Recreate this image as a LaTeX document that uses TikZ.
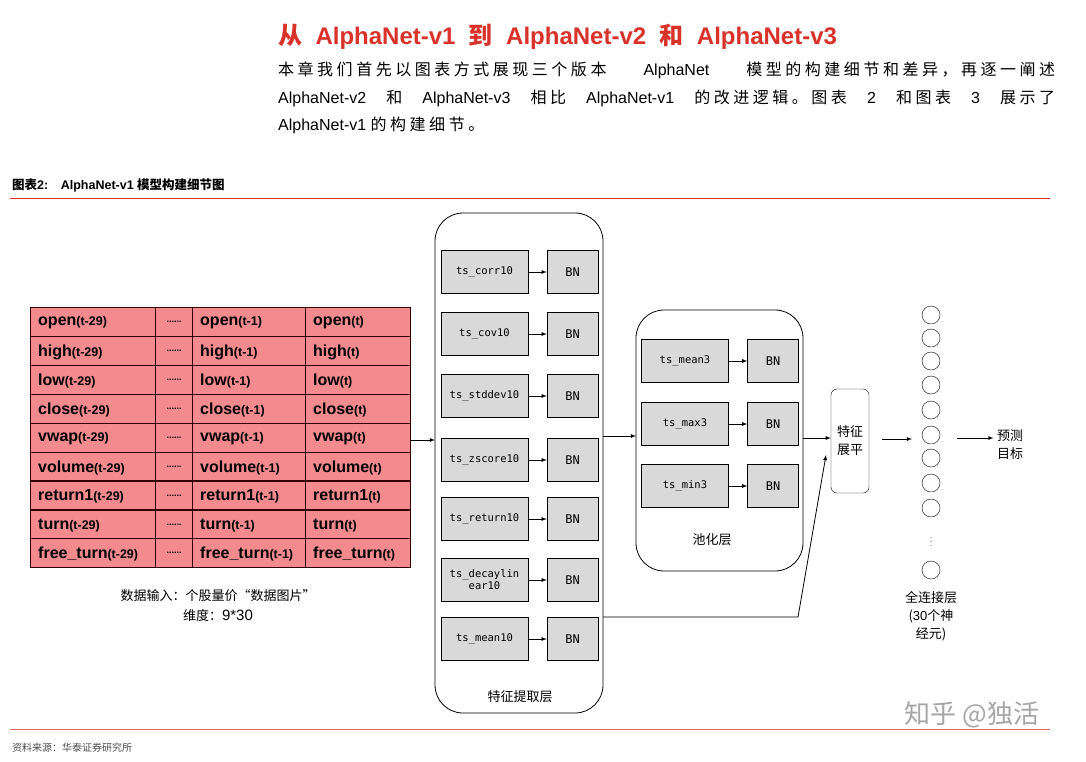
\documentclass[tikz,border=0pt]{standalone}
\usepackage{fontspec}
\setmainfont{Liberation Sans}
\newfontfamily\cjk{Noto Sans CJK SC}
\newfontfamily\cjkp{Noto Sans CJK SC}[LetterSpace=22]
\newfontfamily\mono{DejaVu Sans Mono}
\definecolor{hred}{HTML}{D8322A}
\definecolor{pinkc}{HTML}{F28A8E}
\definecolor{greyc}{HTML}{D9D9D9}
\begin{document}
\begin{tikzpicture}[x=1pt,y=-1pt,
  cell/.style={draw=black!80!red,line width=1.2pt,fill=pinkc,minimum height=28.9pt,anchor=north west,inner sep=0pt},
  op/.style={draw=black,fill=greyc,minimum width=87pt,minimum height=43pt,font=\mono\fontsize{10.5}{12}\selectfont,align=center,inner sep=1pt},
  bn/.style={draw=black,fill=greyc,minimum width=51pt,minimum height=43pt,font=\mono\fontsize{12}{13}\selectfont},
  arr/.style={-latex,line width=0.8pt,black},
  layer/.style={draw=black,thick,rounded corners=28pt},
  neu/.style={draw=black,circle,minimum size=18pt,inner sep=0pt},
  lab/.style={font=\cjk\fontsize{13}{18}\selectfont,align=center}
]
\useasboundingbox (0,0) rectangle (1086,761);
\fill[white] (0,0) rectangle (1086,761);
% header
\node[anchor=west,text=hred,font=\bfseries\fontsize{24}{27}\selectfont,inner sep=0] (title) at (278,37) {{\cjk 从}\ \ AlphaNet-v1\ \ {\cjk 到}\ \ AlphaNet-v2\ \ {\cjk 和}\ \ AlphaNet-v3};
\node[anchor=west,inner sep=0,font=\fontsize{16}{18}\selectfont] (p1) at (278,70) {\makebox[777pt][s]{{\cjkp 本章我们首先以图表方式展现三个版本} AlphaNet {\cjkp 模型的构建细节和差异，再逐一阐述}}};
\node[anchor=west,inner sep=0,font=\fontsize{16}{18}\selectfont] (p2) at (278,98) {\makebox[777pt][s]{AlphaNet-v2 {\cjkp 和} AlphaNet-v3 {\cjkp 相比} AlphaNet-v1 {\cjkp 的改进逻辑。图表} 2 {\cjkp 和图表} 3 {\cjkp 展示了}}};
\node[anchor=west,inner sep=0,font=\fontsize{16}{18}\selectfont] (p3) at (278,125) {AlphaNet-v1\ {\cjkp 的构建细节。}};
\node[anchor=west,inner sep=0,font=\bfseries\fontsize{12.5}{14}\selectfont] (fig) at (12,185) {{\cjk 图表}2:\quad AlphaNet-v1 {\cjk 模型构建细节图}};
\draw[hred,thick] (10,198) -- (1050,198);
\draw[hred!70,thick] (10,729) -- (1050,729);
\node[anchor=west,inner sep=0,text=black!70,font=\cjk\fontsize{10}{12}\selectfont] (src) at (12,748) {资料来源：华泰证券研究所};
\node[text=black!35,font=\cjk\fontsize{26}{28}\selectfont,inner sep=0] (wm) at (972,715) {知乎 @独活};
% table
\def\colA{30}\def\colB{155}\def\colC{192}\def\colD{305}\def\colE{410}
\foreach \nm [count=\i from 0] in {open,high,low,close,vwap,volume,return1,turn,free\_turn}{
  \pgfmathsetmacro\yy{307+\i*28.9}
  \node[cell,minimum width=125pt] (a\i) at (\colA,\yy) {};
  \node[cell,minimum width=37pt] (b\i) at (\colB,\yy) {};
  \node[cell,minimum width=113pt] (c\i) at (\colC,\yy) {};
  \node[cell,minimum width=105pt] (d\i) at (\colD,\yy) {};
  \node[anchor=west,inner sep=0,font=\bfseries] at ([xshift=8pt,yshift=-1pt]a\i.west) {{\fontsize{16}{17}\selectfont\nm}{\fontsize{12.5}{13}\selectfont(t-29)}};
  \node[inner sep=0,font=\bfseries\fontsize{9}{9}\selectfont] at (b\i.center) {......};
  \node[anchor=west,inner sep=0,font=\bfseries] at ([xshift=8pt,yshift=-1pt]c\i.west) {{\fontsize{16}{17}\selectfont\nm}{\fontsize{12.5}{13}\selectfont(t-1)}};
  \node[anchor=west,inner sep=0,font=\bfseries] at ([xshift=8pt,yshift=-1pt]d\i.west) {{\fontsize{16}{17}\selectfont\nm}{\fontsize{12.5}{13}\selectfont(t)}};
}
\node[lab] (cap1) at (218,596) {数据输入：个股量价“数据图片”};
\node[lab] (cap2) at (218,616) {维度：{\fontspec{Liberation Sans}\fontsize{15}{16}\selectfont 9*30}};
% feature layer
\draw[layer] (435,213) rectangle (603,713);
\coordinate (featL) at (435,440);
\coordinate (tabR) at (410,440);
\draw[arr] (tabR) -- (featL);
\node[lab] (featlab) at (520,697) {特征提取层};
\foreach \t [count=\i] /\yc in {ts\_corr10/272,ts\_cov10/334,ts\_stddev10/396,ts\_zscore10/460,ts\_return10/519,{ts\_decaylin\\ear10}/580,ts\_mean10/639}{
  \node[op] (f\i) at (484.5,\yc) {\t};
  \node[bn] (g\i) at (572.5,\yc) {BN};
  \draw[arr] (f\i) -- (g\i);
}
% pooling layer
\draw[layer] (636,310) rectangle (803,571);
\coordinate (featR) at (603,436);
\coordinate (poolL) at (636,436);
\draw[arr] (featR) -- (poolL);
\node[lab] (poollab) at (712,540) {池化层};
\foreach \t [count=\i] /\yc in {ts\_mean3/361,ts\_max3/424,ts\_min3/486}{
  \node[op] (p\i) at (685,\yc) {\t};
  \node[bn] (q\i) at (773,\yc) {BN};
  \draw[arr] (p\i) -- (q\i);
}
% flatten
\node[draw=black,rounded corners=6pt,minimum width=38pt,minimum height=104pt,lab,inner sep=0] (flat) at (850,441) {特征\\展平};
\coordinate (poolR) at (803,438);
\draw[arr] (poolR) -- (flat.west |- poolR);
\coordinate (skipA) at (603,617);
\coordinate (skipB) at (798,617);
\draw[arr] (skipA) -- (skipB) -- (826,455);
% neurons
\foreach \yc [count=\i] in {315,338,361,385,410,435,458,483,508,570}{
  \node[neu] (n\i) at (931,\yc) {};
}
\node[inner sep=0,font=\scriptsize] (ndots) at (931,539) {$\vdots$};
\coordinate (flatR) at (882,439);
\draw[arr] (flatR) -- (912,439);
\node[lab,inner sep=0] (fc) at (931,616) {全连接层\\({\fontspec{Liberation Sans}30}个神\\经元)};
\node[lab] (pred) at (1010,445) {预测\\目标};
\draw[arr] (957,438) -- (pred.west |- 0,438);
\end{tikzpicture}
\end{document}
